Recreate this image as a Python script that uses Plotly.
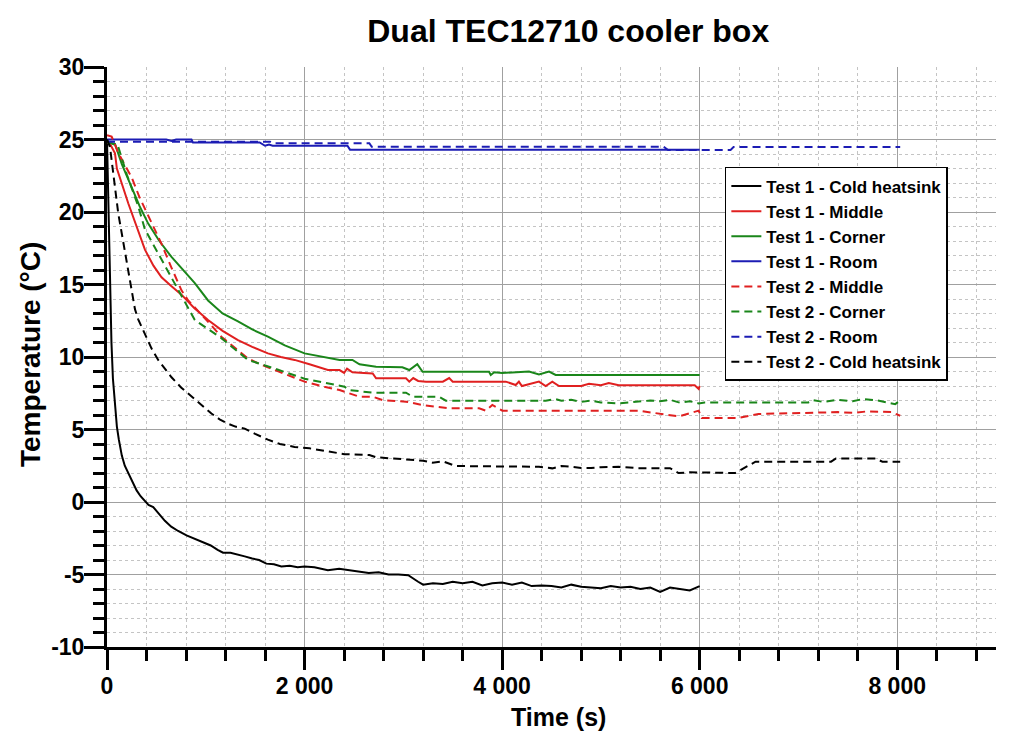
import plotly.graph_objects as go

# ---------------- data ----------------
t1_cold_x = [0, 10, 20, 30, 45, 60, 80, 100, 120, 150, 180, 220, 260, 300, 340, 384, 420, 468, 520, 586,
             650, 720, 805, 880, 956, 1050, 1120, 1175, 1250, 1320, 1394, 1470, 1540, 1613, 1690, 1765,
             1850, 1930, 2000, 2100, 2236, 2350, 2450, 2550, 2650, 2750, 2850, 2950, 3050, 3150, 3200,
             3300, 3400, 3500, 3600, 3700, 3800, 3900, 4000, 4100, 4200, 4300, 4400, 4500, 4600, 4700,
             4800, 4900, 5000, 5100, 5200, 5300, 5400, 5500, 5600, 5700, 5800, 5900, 6000]
t1_cold_y = [25.0, 22.0, 18.5, 14.5, 11.0, 8.5, 6.5, 5.2, 4.3, 3.2, 2.5, 1.9, 1.3, 0.8, 0.4, 0.07, -0.2,
             -0.35, -0.8, -1.3, -1.7, -2.0, -2.3, -2.5, -2.75, -3.0, -3.3, -3.5, -3.5, -3.6, -3.75, -3.9,
             -4.0, -4.25, -4.3, -4.45, -4.4, -4.5, -4.45, -4.5, -4.7, -4.6, -4.7, -4.8, -4.9, -4.85, -5.0,
             -5.0, -5.05, -5.5, -5.7, -5.6, -5.65, -5.5, -5.6, -5.5, -5.75, -5.6, -5.55, -5.7, -5.55, -5.8,
             -5.75, -5.8, -5.9, -5.7, -5.85, -5.9, -5.95, -5.8, -5.9, -5.85, -6.0, -5.9, -6.2, -5.9, -6.0,
             -6.1, -5.8]

t1_mid_x = [0, 30, 81, 100, 215, 300, 384, 470, 552, 650, 754, 880, 1023, 1170, 1326, 1470, 1629, 1760,
            1899, 2050, 2236, 2354, 2400, 2430, 2485, 2600, 2690, 2724, 2900, 3027, 3060, 3100, 3150, 3229,
            3400, 3464, 3500, 3700, 3900, 4037, 4138, 4170, 4200, 4250, 4373, 4441, 4508, 4576, 4800, 4880,
            5000, 5080, 5181, 5400, 5600, 5800, 5950, 5990, 6000]
t1_mid_y = [24.8, 24.7, 24.05, 23.0, 20.6, 19.0, 17.4, 16.3, 15.5, 14.9, 14.3, 13.4, 12.55, 11.8, 11.17,
            10.7, 10.25, 10.0, 9.8, 9.5, 9.1, 9.1, 8.9, 9.2, 8.95, 8.9, 8.87, 8.53, 8.53, 8.53, 8.3, 8.55,
            8.35, 8.3, 8.3, 8.55, 8.3, 8.3, 8.3, 8.3, 8.07, 8.3, 8.0, 8.1, 8.3, 8.0, 8.3, 8.0, 8.0, 8.15,
            8.05, 8.2, 8.05, 8.05, 8.05, 8.07, 8.05, 7.8, 8.0]

t1_corner_x = [0, 81, 150, 249, 330, 417, 530, 653, 770, 889, 1023, 1170, 1326, 1470, 1629, 1800, 2000,
               2200, 2354, 2485, 2556, 2724, 2990, 3060, 3141, 3195, 3500, 3868, 3885, 3920, 4000, 4272,
               4373, 4475, 4542, 5181, 5600, 6000]
t1_corner_y = [24.8, 24.7, 23.3, 21.7, 20.4, 19.2, 18.0, 16.9, 16.0, 15.1, 13.9, 13.0, 12.45, 11.9, 11.4,
               10.8, 10.25, 10.0, 9.79, 9.8, 9.5, 9.33, 9.29, 9.1, 9.5, 8.98, 8.98, 8.98, 8.76, 8.95, 8.9,
               9.0, 8.8, 9.0, 8.76, 8.76, 8.76, 8.76]

t1_room_x = [0, 600, 653, 700, 855, 870, 1545, 1600, 1640, 1677, 2434, 2460, 6000]
t1_room_y = [25.0, 25.0, 24.9, 25.0, 25.0, 24.8, 24.8, 24.57, 24.65, 24.57, 24.57, 24.3, 24.3]

t2_mid_x = [0, 47, 120, 249, 330, 417, 552, 650, 754, 822, 922, 1000, 1158, 1300, 1427, 1550, 1697, 1850,
            2000, 2200, 2354, 2555, 2690, 2791, 3027, 3195, 3363, 3464, 3767, 3834, 3901, 4003, 5181, 5380,
            5787, 5990, 6020, 6390, 6595, 7170, 7400, 7550, 7700, 7940, 8030]
t2_mid_y = [25.3, 25.2, 24.0, 22.4, 21.0, 19.7, 17.8, 16.2, 14.6, 13.9, 13.2, 12.6, 11.4, 10.6, 9.9, 9.5,
            9.1, 8.7, 8.3, 7.95, 7.72, 7.26, 7.26, 7.03, 6.92, 6.69, 6.57, 6.46, 6.46, 6.3, 6.69, 6.3, 6.3,
            6.3, 5.9, 6.3, 5.8, 5.8, 6.07, 6.15, 6.2, 6.15, 6.25, 6.2, 5.95]

t2_corner_x = [0, 114, 200, 316, 384, 552, 687, 889, 1158, 1427, 1697, 2000, 2404, 2454, 2690, 3027, 3094,
               3363, 3431, 4441, 4542, 4600, 4700, 4800, 4900, 5000, 5181, 5300, 5500, 5600, 5700, 5800,
               5900, 5990, 6050, 7100, 7150, 7250, 7400, 7550, 7650, 7800, 7900, 7980, 8030]
t2_corner_y = [24.9, 24.5, 22.6, 20.4, 18.8, 16.7, 15.1, 12.55, 11.3, 9.8, 9.2, 8.5, 7.95, 7.72, 7.54, 7.54,
               7.26, 7.26, 6.99, 6.99, 7.1, 6.99, 7.05, 6.9, 7.0, 6.87, 6.8, 6.87, 7.0, 6.95, 7.05, 6.85,
               6.95, 6.8, 6.87, 6.87, 7.03, 6.9, 7.05, 6.95, 7.1, 7.0, 6.85, 6.75, 7.0]

t2_room_x = [0, 1650, 1680, 2656, 2680, 5636, 5680, 6313, 6343, 8030]
t2_room_y = [24.85, 24.85, 24.74, 24.74, 24.5, 24.5, 24.28, 24.28, 24.48, 24.48]

t2_cold_x = [0, 30, 81, 114, 150, 182, 216, 249, 283, 316, 384, 450, 518, 585, 653, 750, 855, 950, 1057,
             1140, 1225, 1300, 1394, 1500, 1629, 1750, 1899, 2050, 2236, 2404, 2656, 2724, 2900, 3060, 3200,
             3296, 3400, 3532, 4239, 4373, 4508, 4600, 4700, 4800, 4900, 5000, 5181, 5380, 5700, 5787, 5900,
             6360, 6565, 7330, 7380, 7780, 7850, 8030]
t2_cold_y = [25.0, 24.5, 21.7, 19.9, 18.5, 17.2, 15.8, 14.5, 13.3, 12.6, 11.6, 10.6, 9.8, 9.2, 8.6, 7.9,
             7.3, 6.7, 6.1, 5.7, 5.4, 5.2, 5.06, 4.7, 4.3, 4.0, 3.8, 3.7, 3.5, 3.3, 3.24, 3.08, 3.0, 2.9,
             2.85, 2.71, 2.8, 2.48, 2.48, 2.43, 2.32, 2.48, 2.43, 2.35, 2.35, 2.4, 2.43, 2.33, 2.33, 2.0,
             2.05, 2.0, 2.78, 2.78, 3.0, 3.0, 2.78, 2.78]

x_tickvals = [0, 2000, 4000, 6000, 8000]
x_ticktext = ["0", "2 000", "4 000", "6 000", "8 000"]
y_tickvals = [-10, -5, 0, 5, 10, 15, 20, 25, 30]
y_ticktext = ["-10", "-5", "0", "5", "10", "15", "20", "25", "30"]

# ---------------- styles ----------------
BLACK = "#000000"
RED = "#e02020"
GREEN = "#1a861a"
BLUE = "#1c1cb4"
DASH = "8px,5px"
FONT = "Liberation Sans, Arial, sans-serif"

series = [
    ("Test 1 - Cold heatsink", t1_cold_x, t1_cold_y, BLACK, "solid"),
    ("Test 1 - Middle", t1_mid_x, t1_mid_y, RED, "solid"),
    ("Test 1 - Corner", t1_corner_x, t1_corner_y, GREEN, "solid"),
    ("Test 1 - Room", t1_room_x, t1_room_y, BLUE, "solid"),
    ("Test 2 - Middle", t2_mid_x, t2_mid_y, RED, DASH),
    ("Test 2 - Corner", t2_corner_x, t2_corner_y, GREEN, DASH),
    ("Test 2 - Room", t2_room_x, t2_room_y, BLUE, DASH),
    ("Test 2 - Cold heatsink", t2_cold_x, t2_cold_y, BLACK, DASH),
]

fig = go.Figure()
for name, xs, ys, col, dash in series:
    fig.add_trace(go.Scatter(x=xs, y=ys, mode="lines", name=name,
                             line=dict(color=col, width=2, dash=dash)))

axis_common = dict(
    showline=True, linecolor="black", linewidth=3,
    ticks="outside", ticklen=20, tickwidth=2.5, tickcolor="black",
    showgrid=True, gridcolor="#a0a0a0", gridwidth=1,
    zeroline=False,
    tickfont=dict(family=FONT, size=23, color="black", weight="bold"),
)

fig.update_xaxes(
    range=[0, 9000], tickmode="array", tickvals=x_tickvals, ticktext=x_ticktext,
    minor=dict(dtick=400, tick0=0, ticks="outside", ticklen=11, tickwidth=2.5, tickcolor="black",
               showgrid=True, gridcolor="#c4c4c4", griddash="dot", gridwidth=1),
    ticklabelstandoff=-4,
    **axis_common,
)
fig.update_yaxes(
    range=[-10, 30], tickmode="array", tickvals=y_tickvals, ticktext=y_ticktext,
    minor=dict(dtick=1, tick0=0, ticks="outside", ticklen=11, tickwidth=2.5, tickcolor="black",
               showgrid=True, gridcolor="#c4c4c4", griddash="dot", gridwidth=1),
    ticklabelstandoff=-5,
    **axis_common,
)

title_font = dict(family=FONT, color="black", weight="bold")
fig.add_annotation(text="Time (s)", xref="paper", yref="paper", x=0.5084, y=-0.1207,
                   xanchor="center", yanchor="middle", showarrow=False,
                   font=dict(size=25, **title_font))
fig.add_annotation(text="Temperature (°C)", xref="paper", yref="paper", x=-0.0866, y=0.5034,
                   xanchor="center", yanchor="middle", textangle=-90, showarrow=False,
                   font=dict(size=28, **title_font))

fig.update_layout(
    width=1035, height=744,
    margin=dict(l=107, r=39, t=67, b=97, autoexpand=False),
    paper_bgcolor="white", plot_bgcolor="white",
    title=dict(text="Dual TEC12710 cooler box", x=0.549, xanchor="center", xref="container",
               y=0.958, yanchor="middle", yref="container",
               font=dict(size=32, **title_font)),
    legend=dict(x=0.695, y=0.8276, xanchor="left", yanchor="top",
                bgcolor="white", bordercolor="black", borderwidth=1.5,
                font=dict(size=17, **title_font),
                itemwidth=30, tracegroupgap=0),
    showlegend=True,
)

fig.write_html("out.html")
